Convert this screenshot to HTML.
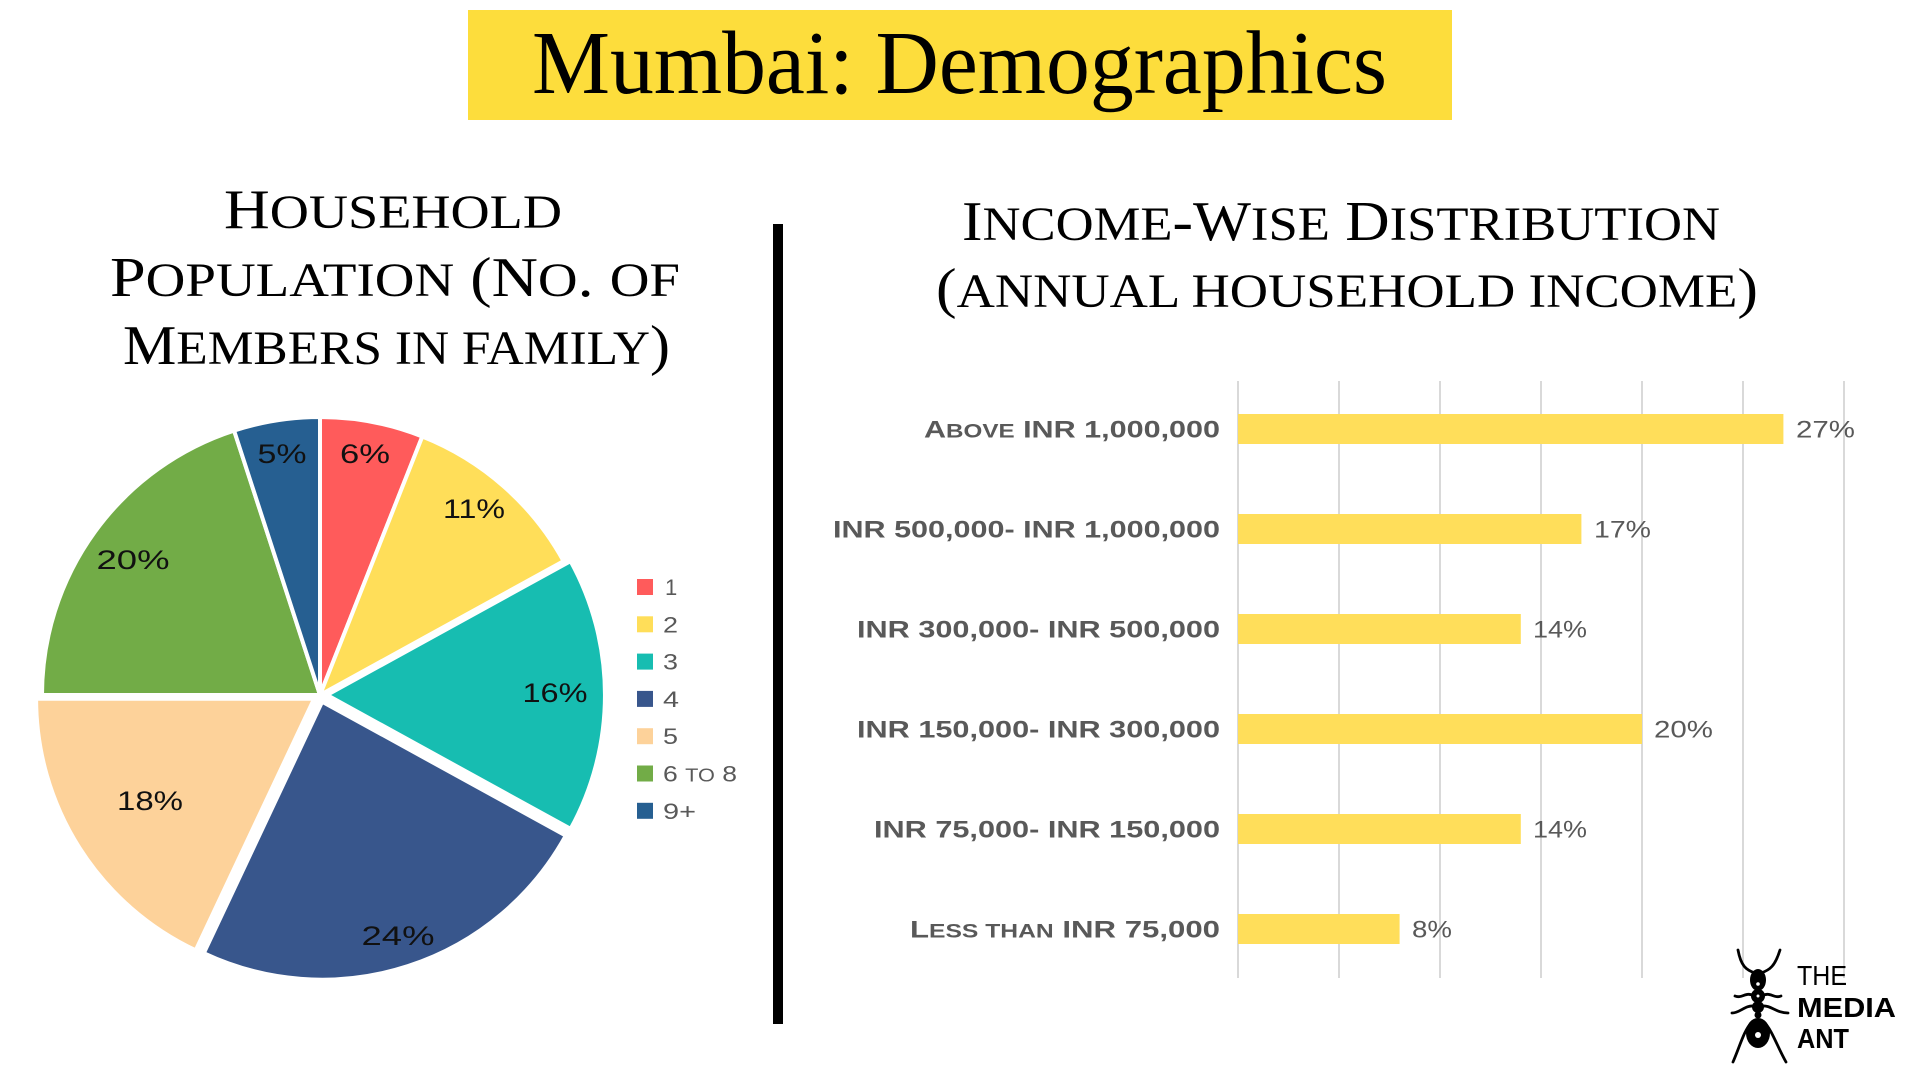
<!DOCTYPE html>
<html>
<head>
<meta charset="utf-8">
<style>
  html,body{margin:0;padding:0;background:#fff;}
  svg{display:block;}
  .serif{font-family:"Liberation Serif",serif;}
  .sans{font-family:"Liberation Sans",sans-serif;}
</style>
</head>
<body>
<svg width="1920" height="1080" viewBox="0 0 1920 1080" xmlns="http://www.w3.org/2000/svg">
  <rect x="0" y="0" width="1920" height="1080" fill="#ffffff"/>

  <!-- Main title -->
  <rect x="468" y="10" width="984" height="110" fill="#FDDD3C"/>
  <text class="serif" x="532" y="93" font-size="90" fill="#000" textLength="855" lengthAdjust="spacingAndGlyphs">Mumbai: Demographics</text>

  <!-- Left title (small caps) -->
  <g class="serif" fill="#000">
    <text x="224" y="228" font-size="56" textLength="338" lengthAdjust="spacingAndGlyphs">H<tspan font-size="48">OUSEHOLD</tspan></text>
    <text x="110" y="296" font-size="56" textLength="570" lengthAdjust="spacingAndGlyphs">P<tspan font-size="48">OPULATION</tspan> (N<tspan font-size="48">O</tspan>. <tspan font-size="48">OF</tspan></text>
    <text x="123" y="364" font-size="56" textLength="547" lengthAdjust="spacingAndGlyphs">M<tspan font-size="48">EMBERS IN FAMILY</tspan>)</text>
  </g>

  <!-- Right title -->
  <g class="serif" fill="#000">
    <text x="962" y="240" font-size="56" textLength="758" lengthAdjust="spacingAndGlyphs">I<tspan font-size="48">NCOME</tspan>-W<tspan font-size="48">ISE</tspan> D<tspan font-size="48">ISTRIBUTION</tspan></text>
    <text x="936" y="307" font-size="56" textLength="822" lengthAdjust="spacingAndGlyphs">(<tspan font-size="48">ANNUAL HOUSEHOLD INCOME</tspan>)</text>
  </g>

  <!-- Divider -->
  <rect x="773" y="224" width="10" height="800" fill="#000"/>

  <!-- Pie chart -->
  <g stroke="#ffffff" stroke-width="4" stroke-linejoin="round">
    <path d="M320,695 L320,417 A278,278 0 0 1 422.3,436.5 Z" fill="#FF5B5B"/>
    <path d="M320,695 L422.3,436.5 A278,278 0 0 1 563.6,561.1 Z" fill="#FFDE59"/>
    <path d="M320,695 L563.6,561.1 A278,278 0 0 1 563.6,828.9 Z" fill="#17BDB1" transform="translate(7,0)"/>
    <path d="M320,695 L563.6,828.9 A278,278 0 0 1 201.6,946.5 Z" fill="#38568C" transform="translate(2.2,6.7)"/>
    <path d="M320,695 L201.6,946.5 A278,278 0 0 1 42,695 Z" fill="#FDD29A" transform="translate(-5.9,3.8)"/>
    <path d="M320,695 L42,695 A278,278 0 0 1 234.1,430.6 Z" fill="#72AC47"/>
    <path d="M320,695 L234.1,430.6 A278,278 0 0 1 320,417 Z" fill="#265F91"/>
  </g>

  <!-- Pie labels -->
  <g class="sans" font-size="27" fill="#111">
    <text x="257.5" y="463" textLength="49" lengthAdjust="spacingAndGlyphs">5%</text>
    <text x="340" y="463" textLength="50" lengthAdjust="spacingAndGlyphs">6%</text>
    <text x="443" y="518" textLength="62" lengthAdjust="spacingAndGlyphs">11%</text>
    <text x="96.5" y="569" textLength="73" lengthAdjust="spacingAndGlyphs">20%</text>
    <text x="522.5" y="702" textLength="65" lengthAdjust="spacingAndGlyphs">16%</text>
    <text x="117" y="810" textLength="66" lengthAdjust="spacingAndGlyphs">18%</text>
    <text x="361.5" y="945" textLength="73" lengthAdjust="spacingAndGlyphs">24%</text>
  </g>

  <!-- Legend -->
  <g>
    <rect x="637" y="579" width="16" height="16" fill="#FF5B5B"/>
    <rect x="637" y="616.3" width="16" height="16" fill="#FFDE59"/>
    <rect x="637" y="653.6" width="16" height="16" fill="#17BDB1"/>
    <rect x="637" y="690.9" width="16" height="16" fill="#38568C"/>
    <rect x="637" y="728.2" width="16" height="16" fill="#FDD29A"/>
    <rect x="637" y="765.5" width="16" height="16" fill="#72AC47"/>
    <rect x="637" y="802.8" width="16" height="16" fill="#265F91"/>
  </g>
  <g class="sans" font-size="22" fill="#595959">
    <text x="665" y="595">1</text>
    <text x="663" y="632.3" textLength="15" lengthAdjust="spacingAndGlyphs">2</text>
    <text x="663" y="669.6" textLength="15" lengthAdjust="spacingAndGlyphs">3</text>
    <text x="663" y="706.9" textLength="16" lengthAdjust="spacingAndGlyphs">4</text>
    <text x="663" y="744.2" textLength="15" lengthAdjust="spacingAndGlyphs">5</text>
    <text x="663" y="781.5" textLength="74" lengthAdjust="spacingAndGlyphs">6 <tspan font-size="18">TO</tspan> 8</text>
    <text x="663" y="818.8" textLength="33" lengthAdjust="spacingAndGlyphs">9+</text>
  </g>

  <!-- Bar chart gridlines -->
  <g stroke="#D9D9D9" stroke-width="2">
    <line x1="1238" y1="381" x2="1238" y2="978"/>
    <line x1="1339" y1="381" x2="1339" y2="978"/>
    <line x1="1440" y1="381" x2="1440" y2="978"/>
    <line x1="1541" y1="381" x2="1541" y2="978"/>
    <line x1="1642" y1="381" x2="1642" y2="978"/>
    <line x1="1743" y1="381" x2="1743" y2="978"/>
    <line x1="1844" y1="381" x2="1844" y2="978"/>
  </g>

  <!-- Bars -->
  <g fill="#FFDE5A">
    <rect x="1238" y="414" width="545.4" height="30"/>
    <rect x="1238" y="514" width="343.4" height="30"/>
    <rect x="1238" y="614" width="282.8" height="30"/>
    <rect x="1238" y="714" width="404" height="30"/>
    <rect x="1238" y="814" width="282.8" height="30"/>
    <rect x="1238" y="914" width="161.6" height="30"/>
  </g>

  <!-- Category labels -->
  <g class="sans" font-size="24" font-weight="bold" fill="#595959">
    <text x="924" y="437.5" textLength="296" lengthAdjust="spacingAndGlyphs">A<tspan font-size="19">BOVE</tspan> INR 1,000,000</text>
    <text x="833" y="537.5" textLength="387" lengthAdjust="spacingAndGlyphs">INR 500,000- INR 1,000,000</text>
    <text x="857" y="637.5" textLength="363" lengthAdjust="spacingAndGlyphs">INR 300,000- INR 500,000</text>
    <text x="857" y="737.5" textLength="363" lengthAdjust="spacingAndGlyphs">INR 150,000- INR 300,000</text>
    <text x="874" y="837.5" textLength="346" lengthAdjust="spacingAndGlyphs">INR 75,000- INR 150,000</text>
    <text x="910" y="937.5" textLength="310" lengthAdjust="spacingAndGlyphs">L<tspan font-size="19">ESS THAN</tspan> INR 75,000</text>
  </g>

  <!-- Value labels -->
  <g class="sans" font-size="24" fill="#595959">
    <text x="1796" y="437.5" textLength="59" lengthAdjust="spacingAndGlyphs">27%</text>
    <text x="1594" y="537.5" textLength="57" lengthAdjust="spacingAndGlyphs">17%</text>
    <text x="1533" y="637.5" textLength="54" lengthAdjust="spacingAndGlyphs">14%</text>
    <text x="1654" y="737.5" textLength="59" lengthAdjust="spacingAndGlyphs">20%</text>
    <text x="1533" y="837.5" textLength="54" lengthAdjust="spacingAndGlyphs">14%</text>
    <text x="1412" y="937.5" textLength="40" lengthAdjust="spacingAndGlyphs">8%</text>
  </g>

  <!-- Logo: ant -->
  <g>
    <g fill="none" stroke="#000" stroke-width="2.8" stroke-linecap="round">
      <path d="M1755,973 C1746,970 1741,966 1738,950"/>
      <path d="M1761,973 C1770,970 1775,966 1780,950"/>
      <path d="M1754,996 C1746,991 1742,999 1735,996"/>
      <path d="M1762,996 C1770,991 1774,999 1781,996"/>
      <path d="M1754,1006 C1745,1005 1740,1013 1732,1013"/>
      <path d="M1762,1006 C1771,1005 1776,1013 1788,1013"/>
      <path d="M1752,1022 C1744,1030 1740,1046 1733,1062"/>
      <path d="M1764,1022 C1772,1030 1777,1046 1786,1062"/>
    </g>
    <ellipse cx="1758" cy="980" rx="8" ry="11" fill="#000"/>
    <circle cx="1758" cy="996" r="7" fill="#000"/>
    <circle cx="1758" cy="1007" r="6" fill="#000"/>
    <circle cx="1758" cy="1015" r="3.5" fill="#000"/>
    <ellipse cx="1758" cy="1033" rx="12" ry="15" fill="#000"/>
    <circle cx="1758" cy="984" r="1.8" fill="#fff"/>
    <circle cx="1758" cy="996" r="1.5" fill="#fff"/>
    <circle cx="1758" cy="1035" r="3" fill="#fff"/>
  </g>
  <g class="sans" fill="#000" font-size="28">
    <text x="1797" y="985" textLength="50" lengthAdjust="spacingAndGlyphs">THE</text>
    <text x="1797" y="1017" font-weight="bold" textLength="99" lengthAdjust="spacingAndGlyphs">MEDIA</text>
    <text x="1797" y="1048" font-weight="bold" textLength="52" lengthAdjust="spacingAndGlyphs">ANT</text>
  </g>
</svg>
</body>
</html>
